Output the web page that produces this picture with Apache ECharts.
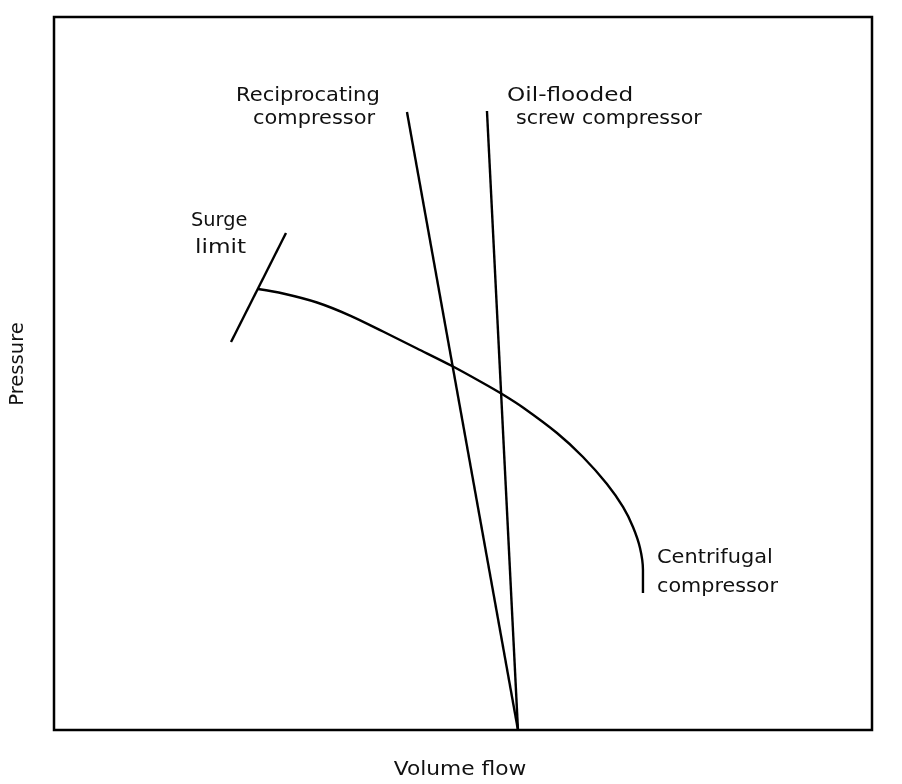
<!DOCTYPE html>
<html>
<head>
<meta charset="utf-8">
<script src="https://cdn.jsdelivr.net/npm/echarts@6/dist/echarts.min.js"></script>
<style>html,body{margin:0;padding:0;background:#fff}#c{width:902px;height:784px}</style>
</head>
<body>
<div id="c"></div>
<script>
// Relative units: volume flow (x) and pressure (y), 0..100
const reciprocating = [[43.15, 86.68], [56.72, 0]];
const screw = [[52.93, 86.82], [56.72, 0]];
const surgeLimit = [[28.36, 69.71], [21.64, 54.42]];
const centrifugal = [
  [24.94, 61.85], [28.00, 61.22], [32.15, 59.96], [36.19, 58.13], [40.22, 55.89],
  [44.38, 53.51], [48.66, 51.05], [52.44, 48.67], [54.77, 47.12], [57.33, 45.23],
  [61.49, 41.65], [64.67, 38.29], [67.60, 34.50], [69.56, 31.28], [70.78, 28.47],
  [71.64, 25.53], [72.00, 22.44], [72.00, 19.21]
];
const labelTexts = ['Reciprocating', 'compressor', 'Oil-flooded', 'screw compressor',
  'Surge', 'limit', 'Centrifugal', 'compressor'];
const xName = 'Volume flow';
const yName = 'Pressure';

// layout (pixel placement of annotation text: left x, baseline y, horizontal stretch)
const labelLayout = [
  [236, 103, 1.108], [253, 126, 1.10], [507, 103, 1.22], [516, 126, 1.08],
  [191, 228, 1.02], [195, 255, 1.22], [657, 565, 1.10], [657, 594, 1.09]
];
const FONT = '19px "DejaVu Sans"';
const DESC = 3;

const chart = echarts.init(document.getElementById('c'), null, { renderer: 'canvas' });
const lineStyle = { color: '#000', width: 2.4 };
const mk = (data, smooth) => ({
  type: 'line', data, showSymbol: false, symbol: 'none', smooth: smooth ? 0.3 : false,
  lineStyle, animation: false, silent: true
});
const graphics = labelTexts.map((t, i) => ({
  type: 'text', x: labelLayout[i][0], y: labelLayout[i][1] + DESC, scaleX: labelLayout[i][2], scaleY: 1,
  style: { text: t, font: FONT, fill: '#111', textAlign: 'left', textVerticalAlign: 'bottom' }
}));
graphics.push({
  type: 'text', x: 460, y: 777 + DESC, scaleX: 1.145, scaleY: 1,
  style: { text: xName, font: FONT, fill: '#111', textAlign: 'center', textVerticalAlign: 'bottom' }
});
graphics.push({
  type: 'text', x: 25 + DESC, y: 364, rotation: Math.PI / 2, scaleX: 1.03, scaleY: 1,
  style: { text: yName, font: FONT, fill: '#111', textAlign: 'center', textVerticalAlign: 'bottom' }
});
chart.setOption({
  backgroundColor: '#fff',
  animation: false,
  grid: { left: 54, top: 17, width: 818, height: 713, show: true, borderColor: '#000', borderWidth: 2.5, backgroundColor: 'transparent' },
  xAxis: { type: 'value', min: 0, max: 100, axisLine: { show: false }, axisTick: { show: false }, axisLabel: { show: false }, splitLine: { show: false } },
  yAxis: { type: 'value', min: 0, max: 100, axisLine: { show: false }, axisTick: { show: false }, axisLabel: { show: false }, splitLine: { show: false } },
  series: [mk(reciprocating), mk(screw), mk(surgeLimit), mk(centrifugal, true)],
  graphic: graphics
});
</script>
</body>
</html>
